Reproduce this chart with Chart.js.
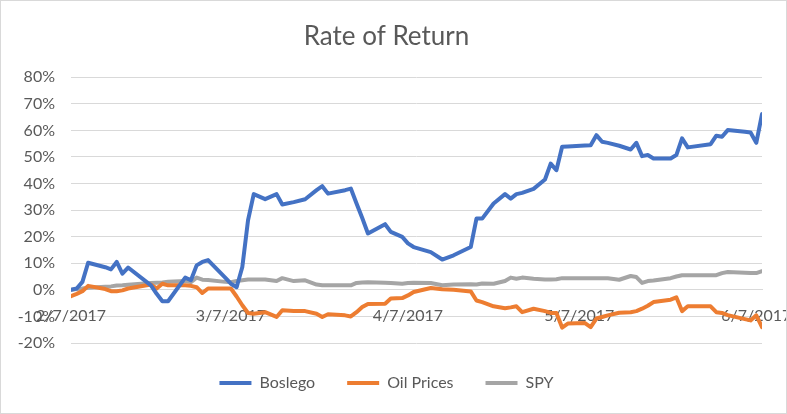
<!DOCTYPE html>
<html>
<head>
<meta charset="utf-8">
<script src="https://cdn.jsdelivr.net/npm/chart.js@4.4.1/dist/chart.umd.min.js"></script>
<style>
  html, body { margin: 0; padding: 0; background: #fff; }
  #wrap { position: relative; width: 787px; height: 414px; border: 1px solid #d9d9d9; box-sizing: border-box; }
</style>
</head>
<body>
<div id="wrap"><canvas id="chart"></canvas></div>
<script>
// dates of the observations
const dates = [
  '2017-02-07','2017-02-08','2017-02-09','2017-02-10','2017-02-13','2017-02-14','2017-02-15','2017-02-16','2017-02-17',
  '2017-02-21','2017-02-22','2017-02-23','2017-02-24','2017-02-27','2017-02-28','2017-03-01','2017-03-02','2017-03-03',
  '2017-03-06','2017-03-07','2017-03-08','2017-03-09','2017-03-10','2017-03-11','2017-03-13','2017-03-15','2017-03-16',
  '2017-03-18','2017-03-20','2017-03-22','2017-03-23','2017-03-24','2017-03-27','2017-03-28','2017-03-29','2017-03-30',
  '2017-03-31','2017-04-03','2017-04-04','2017-04-06','2017-04-07','2017-04-08','2017-04-11','2017-04-13','2017-04-15',
  '2017-04-18','2017-04-19','2017-04-20','2017-04-22','2017-04-24','2017-04-25','2017-04-26','2017-04-27','2017-04-29',
  '2017-05-01','2017-05-02','2017-05-03','2017-05-04','2017-05-05','2017-05-08','2017-05-09','2017-05-10','2017-05-11',
  '2017-05-12','2017-05-14','2017-05-16','2017-05-17','2017-05-18','2017-05-19','2017-05-20','2017-05-23','2017-05-24',
  '2017-05-25','2017-05-26','2017-05-30','2017-05-31','2017-06-01','2017-06-02','2017-06-05','2017-06-06','2017-06-07',
  '2017-06-08'
];

// rate of return, in percent
const boslego = [
  0, 0.5, 3, 10.2, 8.5, 7.7, 10.5, 6.1, 8.4,
  1.7, -1.5, -4.3, -4.3, 4.6, 3.6, 9.2, 10.5, 11.2,
  4.6, 2.3, 1, 8.6, 26.2, 36, 34.1, 36, 32.1,
  33, 34.1, 37.5, 39, 36.2, 37.5, 38.1, 32.5, 27,
  21.2, 24.7, 21.8, 19.9, 17.5, 16.1, 14.2, 11.4, 13,
  16.1, 26.8, 26.8, 32.5, 36, 34.3, 36, 36.5, 38,
  41.5, 47.5, 45, 53.8, 53.9, 54.3, 54.4, 58.2, 55.7,
  55.3, 54.2, 52.8, 55.3, 50.3, 50.7, 49.4, 49.4, 50.7,
  57, 53.6, 54.8, 58, 57.6, 60.1, 59.5, 59.2, 55.3,
  66.1
];
const oilPrices = [
  -2.4, -1.5, -0.5, 1.5, 0.3, -0.5, -0.5, -0.2, 0.5,
  2, 0.5, 2.3, 1.7, 1.7, 1.5, 1, -1.2, 0.5,
  0.5, 0.5, -2.5, -5.8, -8.7, -9, -8.4, -10.2, -7.7,
  -8, -8, -9, -10.2, -9.2, -9.6, -10, -8.4, -6.5,
  -5.3, -5.2, -3.3, -3.1, -2.1, -0.8, 0.7, 0.2, 0,
  -0.6, -4, -4.6, -6.2, -6.9, -6.6, -6.2, -8.4, -7.1,
  -8, -8.7, -8.7, -14.2, -12.7, -12.5, -14, -10.8, -10.2,
  -9.6, -8.6, -8.4, -8, -7.1, -6, -4.6, -3.7, -2.8,
  -8, -6.2, -6.2, -8.4, -8.7, -9.5, -11, -11.5, -9.6,
  -14
];
const spy = [
  0, 0.3, 0.5, 0.8, 1.2, 1.3, 1.6, 1.7, 1.9,
  2.6, 2.7, 2.8, 3, 3.3, 2.9, 4.6, 3.8, 3.7,
  3, 2.9, 3.3, 3.6, 3.9, 3.9, 3.9, 3.3, 4.4,
  3.3, 3.6, 2, 1.7, 1.7, 1.7, 1.7, 2.6, 2.8,
  2.9, 2.7, 2.6, 2.3, 2.6, 2.7, 2.6, 1.7, 2,
  2.1, 2, 2.4, 2.3, 3.3, 4.6, 4.2, 4.6, 4.2,
  3.9, 3.9, 4, 4.4, 4.4, 4.4, 4.4, 4.4, 4.4,
  4.4, 3.8, 5.2, 4.8, 2.6, 3.3, 3.5, 4.4, 5,
  5.5, 5.5, 5.5, 5.5, 6.3, 6.7, 6.4, 6.3, 6.3,
  7
];

// x axis labels
const tickDates = ['2017-02-07', '2017-03-07', '2017-04-07', '2017-05-07', '2017-06-07'];
const tickLabels = ['2/7/2017', '3/7/2017', '4/7/2017', '5/7/2017', '6/7/2017'];

const DAY = 86400000;
const t0 = Date.parse(dates[0]);
const dayOf = d => (Date.parse(d) - t0) / DAY;
const points = vals => vals.map((v, i) => ({ x: dayOf(dates[i]), y: v }));

const textColor = '#595959';
const gridColor = '#d9d9d9';
const fontFamily = 'Lato, "Open Sans", sans-serif';

function series(label, vals, color) {
    return {
        label: label,
        data: points(vals),
        borderColor: color,
        backgroundColor: color,
        borderWidth: 4,
        pointRadius: 0,
        pointHoverRadius: 0,
        pointStyle: 'line',
        borderJoinStyle: 'round',
        borderCapStyle: 'round',
        tension: 0
    };
}

new Chart(document.getElementById('chart'), {
    type: 'line',
    data: {
        datasets: [
            series('Boslego', boslego, '#4472C4'),
            series('Oil Prices', oilPrices, '#ED7D31'),
            series('SPY', spy, '#A5A5A5')
        ]
    },
    options: {
        responsive: true,
        maintainAspectRatio: false,
        animation: false,
        events: [],
        layout: {
            autoPadding: false,
            padding: { left: 10, right: 24, top: 12, bottom: 12 }
        },
        plugins: {
            title: {
                display: true,
                text: 'Rate of Return',
                color: textColor,
                font: { family: fontFamily, size: 26, weight: 'normal' },
                padding: { top: 8, bottom: 25 }
            },
            legend: {
                position: 'bottom',
                labels: {
                    color: textColor,
                    font: { family: fontFamily, size: 16 },
                    usePointStyle: true,
                    pointStyleWidth: 32,
                    padding: 32
                }
            },
            tooltip: { enabled: false }
        },
        scales: {
            x: {
                type: 'linear',
                position: { y: 0 },
                min: 0,
                max: dayOf(dates[dates.length - 1]),
                grid: { display: false },
                border: { display: true, color: gridColor, width: 1 },
                afterBuildTicks: axis => {
                    axis.ticks = tickDates.map(d => ({ value: dayOf(d) }));
                },
                // labels may overflow the edges, as in the original
                afterFit: axis => { axis.paddingLeft = 0; axis.paddingRight = 0; },
                ticks: {
                    color: textColor,
                    font: { family: fontFamily, size: 16 },
                    padding: 8,
                    maxRotation: 0,
                    autoSkip: false,
                    callback: (v, i) => tickLabels[i]
                }
            },
            y: {
                min: -20,
                max: 80,
                grid: { color: gridColor, lineWidth: 1, drawTicks: false },
                border: { display: false },
                afterFit: axis => { axis.width = 60; },
                ticks: {
                    stepSize: 10,
                    color: textColor,
                    font: { family: fontFamily, size: 16 },
                    padding: 16,
                    callback: v => v + '%'
                }
            }
        }
    }
});
</script>
</body>
</html>
